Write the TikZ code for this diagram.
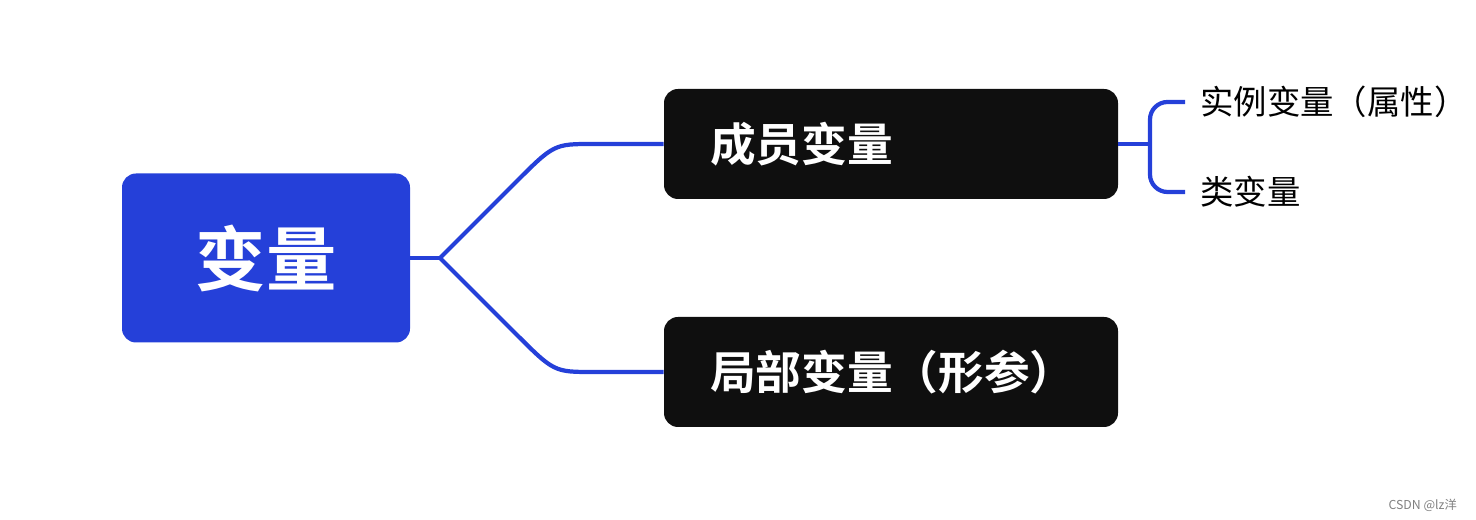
\documentclass[tikz,border=0pt]{standalone}
\usepackage{fontspec}
\setmainfont{Noto Sans CJK SC}
\newfontfamily\boldcjk{Noto Sans CJK SC Bold}
\usetikzlibrary{positioning}
\definecolor{mapblue}{RGB}{37,64,217}
\definecolor{mapdark}{RGB}{15,15,15}
\begin{document}
\begin{tikzpicture}[
root/.style={fill=mapblue, rounded corners=0.28cm, minimum width=5.76cm, minimum height=3.38cm, text=white, font=\boldcjk\fontsize{40}{44}\selectfont},
topic/.style={fill=mapdark, rounded corners=0.28cm, minimum height=2.2cm, text width=7.24cm, inner xsep=0.92cm, align=left, text=white, font=\boldcjk\fontsize{26}{30}\selectfont},
leaf/.style={anchor=west, inner xsep=0.3cm, font=\fontsize{19}{22}\selectfont},
link/.style={draw=mapblue, line width=2.4pt}
]
\useasboundingbox (0,0) rectangle (29.52,10.4);
\node[root] (var) at (5.32,5.24) {变量};
\node[topic] (member) at (17.82,7.52) {成员变量};
\node[topic] (local) at (17.82,2.96) {局部变量（形参）};
\node[leaf] (inst) at (23.7,8.36) {实例变量（属性）};
\node[leaf] (cls) at (23.7,6.56) {类变量};
\coordinate (fork) at (8.8,5.24);
\coordinate (brk) at (23.0,7.52);
\draw[link] (var.east) -- (fork);
\draw[link] (fork) -- (10.3,6.74) .. controls (11.08,7.52) .. (11.86,7.52) -- (member.west);
\draw[link] (fork) -- (10.3,3.74) .. controls (11.08,2.96) .. (11.86,2.96) -- (local.west);
\draw[link] (member.east) -- (brk);
\draw[link, rounded corners=0.35cm] (inst.west) -| (brk) |- (cls.west);
\node[text=gray, font=\fontsize{7}{9}\selectfont, anchor=east] (mark) at (29.26,0.3) {CSDN @lz洋};
\end{tikzpicture}
\end{document}
